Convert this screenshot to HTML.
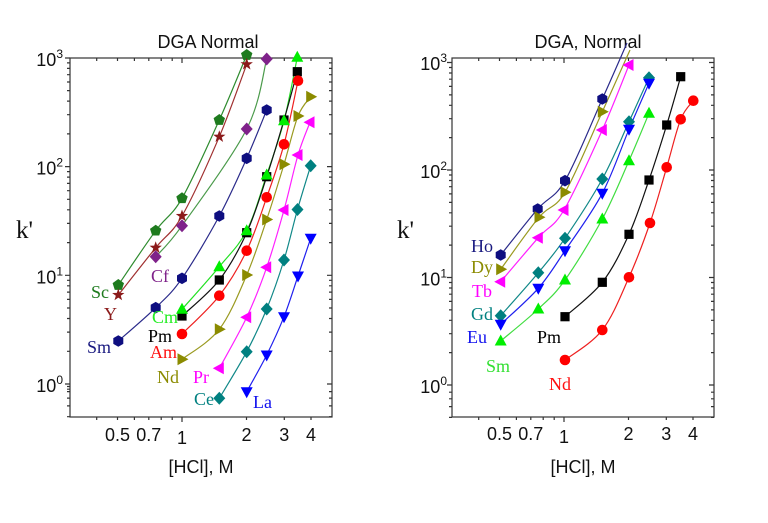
<!DOCTYPE html>
<html><head><meta charset="utf-8">
<style>
html,body{margin:0;padding:0;background:#fff;}
svg{display:block;}
.ax{font-family:"Liberation Sans",Arial,sans-serif;font-size:18px;fill:#111;}
.lb{font-family:"Liberation Serif","Times New Roman",serif;font-size:18px;}
</style></head>
<body>
<svg width="768" height="523" viewBox="0 0 768 523" xmlns="http://www.w3.org/2000/svg">
<defs>
<polygon id="hex" points="0,-5.8 5,-2.9 5,2.9 0,5.8 -5,2.9 -5,-2.9"/>
<polygon id="pent" points="0,-6 5.7,-1.85 3.53,4.85 -3.53,4.85 -5.7,-1.85"/>
<polygon id="star" points="0,-6.5 1.53,-2.1 6.18,-2.01 2.47,0.8 3.82,5.26 0,2.6 -3.82,5.26 -2.47,0.8 -6.18,-2.01 -1.53,-2.1"/>
<polygon id="dia" points="0,-6.5 6,0 0,6.5 -6,0"/>
<polygon id="tu" points="0,-6.5 6,4.5 -6,4.5"/>
<polygon id="td" points="0,6.5 6,-4.5 -6,-4.5"/>
<polygon id="tl" points="-6.5,0 4.5,-6 4.5,6"/>
<polygon id="tr" points="6.5,0 -4.5,-6 -4.5,6"/>
<rect id="sq" x="-4.6" y="-4.6" width="9.2" height="9.2"/>
<circle id="cir" r="5.3"/>
</defs>

<!-- ===== LEFT PANEL ===== -->
<text class="ax" x="208" y="48" text-anchor="middle">DGA Normal</text>
<g stroke="#333" stroke-width="1.2" fill="none">
<rect x="70" y="58" width="262" height="359"/>
<!-- y ticks left (outward) and right (inward) -->
<path d="M70,384h-5M70,275.3h-5M70,166.6h-5M70,58h-5 M332,384h-5M332,275.3h-5M332,166.6h-5"/>
<path d="M70,416.7h-3M70,405.9h-3M70,398.1h-3M70,391.6h-3M70,389.2h-3M70,386.5h-3
M70,351.3h-3M70,332.1h-3M70,318.5h-3M70,308h-3M70,299.4h-3M70,292.1h-3M70,285.8h-3M70,280.3h-3
M70,242.6h-3M70,223.4h-3M70,209.8h-3M70,199.3h-3M70,190.7h-3M70,183.4h-3M70,177.1h-3M70,171.6h-3
M70,133.9h-3M70,114.7h-3M70,101.1h-3M70,90.6h-3M70,82h-3M70,74.7h-3M70,68.4h-3M70,62.9h-3
M332,416.7h-3M332,405.9h-3M332,398.1h-3M332,391.6h-3
M332,351.3h-3M332,332.1h-3M332,318.5h-3M332,308h-3M332,299.4h-3M332,292.1h-3M332,285.8h-3M332,280.3h-3
M332,242.6h-3M332,223.4h-3M332,209.8h-3M332,199.3h-3M332,190.7h-3M332,183.4h-3M332,177.1h-3M332,171.6h-3
M332,133.9h-3M332,114.7h-3M332,101.1h-3M332,90.6h-3M332,82h-3M332,74.7h-3M332,68.4h-3M332,62.9h-3"/>
<!-- x ticks -->
<path d="M182,417v5M182,58v5"/>
<path d="M96.7,417v3M117.5,417v3M134.4,417v3M148.8,417v3M161.2,417v3M172.2,417v3M246.5,417v3M284.3,417v3M311,417v3
M96.7,58v3M117.5,58v3M134.4,58v3M148.8,58v3M161.2,58v3M172.2,58v3M246.5,58v3M284.3,58v3M311,58v3"/>
</g>
<g class="ax">
<text x="63" y="66" text-anchor="end">10<tspan dy="-8" font-size="12">3</tspan></text>
<text x="63" y="174.6" text-anchor="end">10<tspan dy="-8" font-size="12">2</tspan></text>
<text x="63" y="283.3" text-anchor="end">10<tspan dy="-8" font-size="12">1</tspan></text>
<text x="63" y="392" text-anchor="end">10<tspan dy="-8" font-size="12">0</tspan></text>
<text x="117.5" y="441" text-anchor="middle">0.5</text>
<text x="148.8" y="441" text-anchor="middle">0.7</text>
<text x="182" y="444" text-anchor="middle">1</text>
<text x="246.5" y="441" text-anchor="middle">2</text>
<text x="284.3" y="441" text-anchor="middle">3</text>
<text x="311" y="441" text-anchor="middle">4</text>
<text x="201" y="473" text-anchor="middle">[HCl], M</text>
</g>
<text x="16" y="238" font-family="'Liberation Serif',serif" font-size="25" fill="#111">k'</text>

<g fill="none" stroke-width="1.2">
<polyline class="s" stroke="#2e8b2e" points="118.3,285 155.7,230.7 182,198.3 219.3,120 246.7,55"/>
<polyline class="s" stroke="#a03030" points="118.3,295 155.7,247.7 182,216 219.3,136.7 246.7,64.3"/>
<polyline class="s" stroke="#4a9a4a" points="155.7,256.7 182,225.7 246.7,129 266.7,59"/>
<polyline class="s" stroke="#2a2a8a" points="118.3,341 155.7,307.7 182,278.3 219.3,216 246.7,158.3 266.7,110"/>
<polyline class="s" stroke="#22e022" points="182,309.3 219.3,266.7 246.7,230.7 266.7,175 284,120.7 297.3,57.3"/>
<polyline class="s" stroke="#111" points="182,316 219.3,280 246.7,232.7 266.7,176.7 284,120 297.3,71.7"/>
<polyline class="s" stroke="#ee2020" points="182,334 219.3,295.7 246.7,250.7 266.7,197.3 284,144.3 298,80.7"/>
<polyline class="s" stroke="#9a9a20" points="182,359.3 219.3,329.3 246.7,275 266.7,219.5 284,164.3 298,116 310.7,96.7"/>
<polyline class="s" stroke="#ff20ff" points="219.3,368.3 246.7,317.3 266.7,267.3 284,210 298,155 310,122.3"/>
<polyline class="s" stroke="#108888" points="219.3,398.3 246.7,351.7 266.7,309 284,260 297.5,209.5 310.7,165.7"/>
<polyline class="s" stroke="#2020ee" points="246.7,391.7 266.7,355 284,316.7 298,276 310.7,238.3"/>
</g>
<g>
<g fill="#1e7b1e"><use href="#pent" x="118.3" y="285"/><use href="#pent" x="155.7" y="230.7"/><use href="#pent" x="182" y="198.3"/><use href="#pent" x="219.3" y="120"/><use href="#pent" x="246.7" y="55"/></g>
<g fill="#8b1a1a"><use href="#star" x="118.3" y="295"/><use href="#star" x="155.7" y="247.7"/><use href="#star" x="182" y="216"/><use href="#star" x="219.3" y="136.7"/><use href="#star" x="246.7" y="64.3"/></g>
<g fill="#7f228a"><use href="#dia" x="155.7" y="256.7"/><use href="#dia" x="182" y="225.7"/><use href="#dia" x="246.7" y="129"/><use href="#dia" x="266.7" y="59"/></g>
<g fill="#0e0e80"><use href="#hex" x="118.3" y="341"/><use href="#hex" x="155.7" y="307.7"/><use href="#hex" x="182" y="278.3"/><use href="#hex" x="219.3" y="216"/><use href="#hex" x="246.7" y="158.3"/><use href="#hex" x="266.7" y="110"/></g>
<g fill="#000"><use href="#sq" x="182" y="316"/><use href="#sq" x="219.3" y="280"/><use href="#sq" x="246.7" y="232.7"/><use href="#sq" x="266.7" y="176.7"/><use href="#sq" x="284" y="120"/><use href="#sq" x="297.3" y="71.7"/></g>
<g fill="#00ee00"><use href="#tu" x="182" y="309.3"/><use href="#tu" x="219.3" y="266.7"/><use href="#tu" x="246.7" y="230.7"/><use href="#tu" x="266.7" y="175"/><use href="#tu" x="284" y="120.7"/><use href="#tu" x="297.3" y="57.3"/></g>
<g fill="#ff0000"><use href="#cir" x="182" y="334"/><use href="#cir" x="219.3" y="295.7"/><use href="#cir" x="246.7" y="250.7"/><use href="#cir" x="266.7" y="197.3"/><use href="#cir" x="284" y="144.3"/><use href="#cir" x="298" y="80.7"/></g>
<g fill="#8b8b00"><use href="#tr" x="182" y="359.3"/><use href="#tr" x="219.3" y="329.3"/><use href="#tr" x="246.7" y="275"/><use href="#tr" x="266.7" y="219.5"/><use href="#tr" x="284" y="164.3"/><use href="#tr" x="298" y="116"/><use href="#tr" x="310.7" y="96.7"/></g>
<g fill="#ff00ff"><use href="#tl" x="219.3" y="368.3"/><use href="#tl" x="246.7" y="317.3"/><use href="#tl" x="266.7" y="267.3"/><use href="#tl" x="284" y="210"/><use href="#tl" x="298" y="155"/><use href="#tl" x="310" y="122.3"/></g>
<g fill="#008080"><use href="#dia" x="219.3" y="398.3"/><use href="#dia" x="246.7" y="351.7"/><use href="#dia" x="266.7" y="309"/><use href="#dia" x="284" y="260"/><use href="#dia" x="297.5" y="209.5"/><use href="#dia" x="310.7" y="165.7"/></g>
<g fill="#0000ff"><use href="#td" x="246.7" y="391.7"/><use href="#td" x="266.7" y="355"/><use href="#td" x="284" y="316.7"/><use href="#td" x="298" y="276"/><use href="#td" x="310.7" y="238.3"/></g>
</g>
<g class="lb">
<text x="91" y="298" fill="#1e7b1e">Sc</text>
<text x="104" y="320" fill="#8b1a1a">Y</text>
<text x="151" y="282" fill="#7f228a">Cf</text>
<text x="87" y="353" fill="#1a1a80">Sm</text>
<text x="152" y="323" fill="#22ee22">Cm</text>
<text x="148" y="342" fill="#000">Pm</text>
<text x="150" y="358" fill="#ff1010">Am</text>
<text x="157" y="383" fill="#8b8b00">Nd</text>
<text x="193" y="383" fill="#ff00ff">Pr</text>
<text x="194" y="405" fill="#008080">Ce</text>
<text x="253" y="408" fill="#1010ee">La</text>
</g>

<!-- ===== RIGHT PANEL ===== -->
<text class="ax" x="588" y="48" text-anchor="middle">DGA, Normal</text>
<g stroke="#333" stroke-width="1.2" fill="none">
<rect x="452" y="58" width="262" height="359"/>
<path d="M452,385h-5M452,277.5h-5M452,170h-5M452,62.5h-5 M714,385h-5M714,277.5h-5M714,170h-5M714,62.5h-5"/>
<path d="M452,417.4h-3M452,406.6h-3M452,398.8h-3M452,392.2h-3
M452,352.6h-3M452,333.7h-3M452,320.3h-3M452,309.9h-3M452,301.4h-3M452,294.2h-3M452,288h-3M452,282.5h-3
M452,245.1h-3M452,226.2h-3M452,212.8h-3M452,202.4h-3M452,193.9h-3M452,186.7h-3M452,180.5h-3M452,175h-3
M452,137.6h-3M452,118.7h-3M452,105.3h-3M452,94.9h-3M452,86.4h-3M452,79.2h-3M452,73h-3M452,67.5h-3
M714,417.4h-3M714,406.6h-3M714,398.8h-3M714,392.2h-3
M714,352.6h-3M714,333.7h-3M714,320.3h-3M714,309.9h-3M714,301.4h-3M714,294.2h-3M714,288h-3M714,282.5h-3
M714,245.1h-3M714,226.2h-3M714,212.8h-3M714,202.4h-3M714,193.9h-3M714,186.7h-3M714,180.5h-3M714,175h-3
M714,137.6h-3M714,118.7h-3M714,105.3h-3M714,94.9h-3M714,86.4h-3M714,79.2h-3M714,73h-3M714,67.5h-3"/>
<path d="M564,417v5M564,58v5"/>
<path d="M478.7,417v3M499.5,417v3M516.4,417v3M530.8,417v3M543.2,417v3M554.2,417v3M628.5,417v3M666.3,417v3M693,417v3
M478.7,58v3M499.5,58v3M516.4,58v3M530.8,58v3M543.2,58v3M554.2,58v3M628.5,58v3M666.3,58v3M693,58v3"/>
</g>
<g class="ax">
<text x="447" y="70" text-anchor="end">10<tspan dy="-8" font-size="12">3</tspan></text>
<text x="447" y="178" text-anchor="end">10<tspan dy="-8" font-size="12">2</tspan></text>
<text x="447" y="285.5" text-anchor="end">10<tspan dy="-8" font-size="12">1</tspan></text>
<text x="447" y="393" text-anchor="end">10<tspan dy="-8" font-size="12">0</tspan></text>
<text x="499.5" y="440" text-anchor="middle">0.5</text>
<text x="530.8" y="440" text-anchor="middle">0.7</text>
<text x="564" y="443" text-anchor="middle">1</text>
<text x="628.5" y="440" text-anchor="middle">2</text>
<text x="666.3" y="440" text-anchor="middle">3</text>
<text x="693" y="440" text-anchor="middle">4</text>
<text x="583" y="473" text-anchor="middle">[HCl], M</text>
</g>
<text x="397" y="238" font-family="'Liberation Serif',serif" font-size="25" fill="#111">k'</text>

<g fill="none" stroke-width="1.2">
<polyline class="s" stroke="#2a2a8a" points="500.7,255 537.7,209 565,180.7 602.3,99 627,43"/>
<polyline class="s" stroke="#9a9a20" points="500.7,269.3 539,217.3 565,192.3 602.3,111.7 630,50"/>
<polyline class="s" stroke="#ff20ff" points="500.7,281.7 538.3,237.7 564,210 602.3,130 629,65"/>
<polyline class="s" stroke="#108888" points="500.7,315.7 538.3,272.7 565,238.3 602.3,179 629,121.7 649,77.7"/>
<polyline class="s" stroke="#2020ee" points="500.7,324.3 538.3,288.3 565,250.7 602.3,193.3 629,129.3 649,83.3"/>
<polyline class="s" stroke="#40dd40" points="500.7,341 538.3,309 565,280 602.3,219 629,160.7 649,113.3"/>
<polyline class="s" stroke="#111" points="565,316.7 602.3,282.3 629,234.3 649,180 666.7,125 680.7,76.7"/>
<polyline class="s" stroke="#ee2020" points="565,360 602.3,330 629,277.3 650,223 666.7,167.3 680.7,119.3 693.3,100.7"/>
</g>
<g>
<g fill="#0e0e80"><use href="#hex" x="500.7" y="255"/><use href="#hex" x="537.7" y="209"/><use href="#hex" x="565" y="180.7"/><use href="#hex" x="602.3" y="99"/></g>
<g fill="#8b8b00"><use href="#tr" x="500.7" y="269.3"/><use href="#tr" x="539" y="217.3"/><use href="#tr" x="565" y="192.3"/><use href="#tr" x="602.3" y="111.7"/></g>
<g fill="#ff00ff"><use href="#tl" x="500.7" y="281.7"/><use href="#tl" x="538.3" y="237.7"/><use href="#tl" x="564" y="210"/><use href="#tl" x="602.3" y="130"/><use href="#tl" x="629" y="65"/></g>
<g fill="#008080"><use href="#dia" x="500.7" y="315.7"/><use href="#dia" x="538.3" y="272.7"/><use href="#dia" x="565" y="238.3"/><use href="#dia" x="602.3" y="179"/><use href="#dia" x="629" y="121.7"/><use href="#dia" x="649" y="77.7"/></g>
<g fill="#0000ff"><use href="#td" x="500.7" y="324.3"/><use href="#td" x="538.3" y="288.3"/><use href="#td" x="565" y="250.7"/><use href="#td" x="602.3" y="193.3"/><use href="#td" x="629" y="129.3"/><use href="#td" x="649" y="83.3"/></g>
<g fill="#00ee00"><use href="#tu" x="500.7" y="341"/><use href="#tu" x="538.3" y="309"/><use href="#tu" x="565" y="280"/><use href="#tu" x="602.3" y="219"/><use href="#tu" x="629" y="160.7"/><use href="#tu" x="649" y="113.3"/></g>
<g fill="#000"><use href="#sq" x="565" y="316.7"/><use href="#sq" x="602.3" y="282.3"/><use href="#sq" x="629" y="234.3"/><use href="#sq" x="649" y="180"/><use href="#sq" x="666.7" y="125"/><use href="#sq" x="680.7" y="76.7"/></g>
<g fill="#ff0000"><use href="#cir" x="565" y="360"/><use href="#cir" x="602.3" y="330"/><use href="#cir" x="629" y="277.3"/><use href="#cir" x="650" y="223"/><use href="#cir" x="666.7" y="167.3"/><use href="#cir" x="680.7" y="119.3"/><use href="#cir" x="693.3" y="100.7"/></g>
</g>
<g class="lb">
<text x="471" y="252" fill="#1a1a80">Ho</text>
<text x="471" y="273" fill="#8b8b00">Dy</text>
<text x="472" y="297" fill="#ff00ff">Tb</text>
<text x="471" y="320" fill="#008080">Gd</text>
<text x="467" y="343" fill="#1010ee">Eu</text>
<text x="486" y="372" fill="#33e033">Sm</text>
<text x="537" y="343" fill="#000">Pm</text>
<text x="549" y="390" fill="#ff1010">Nd</text>
</g>
</svg>
<script>
(function(){
  var pls=document.querySelectorAll('polyline.s');
  for(var k=0;k<pls.length;k++){
    var pl=pls[k];
    var nums=pl.getAttribute('points').trim().split(/[\s,]+/).map(Number);
    var p=[];for(var i=0;i<nums.length;i+=2)p.push([nums[i],nums[i+1]]);
    var d='M'+p[0][0]+','+p[0][1];
    for(var i=0;i<p.length-1;i++){
      var p0=p[i>0?i-1:i],p1=p[i],p2=p[i+1],p3=p[i+2<p.length?i+2:i+1];
      var c1x=p1[0]+(p2[0]-p0[0])/6,c1y=p1[1]+(p2[1]-p0[1])/6;
      var c2x=p2[0]-(p3[0]-p1[0])/6,c2y=p2[1]-(p3[1]-p1[1])/6;
      d+=' C'+c1x.toFixed(2)+','+c1y.toFixed(2)+' '+c2x.toFixed(2)+','+c2y.toFixed(2)+' '+p2[0]+','+p2[1];
    }
    var path=document.createElementNS('http://www.w3.org/2000/svg','path');
    path.setAttribute('d',d);
    path.setAttribute('stroke',pl.getAttribute('stroke'));
    path.setAttribute('fill','none');
    pl.parentNode.replaceChild(path,pl);
  }
})();
</script>
</body></html>
